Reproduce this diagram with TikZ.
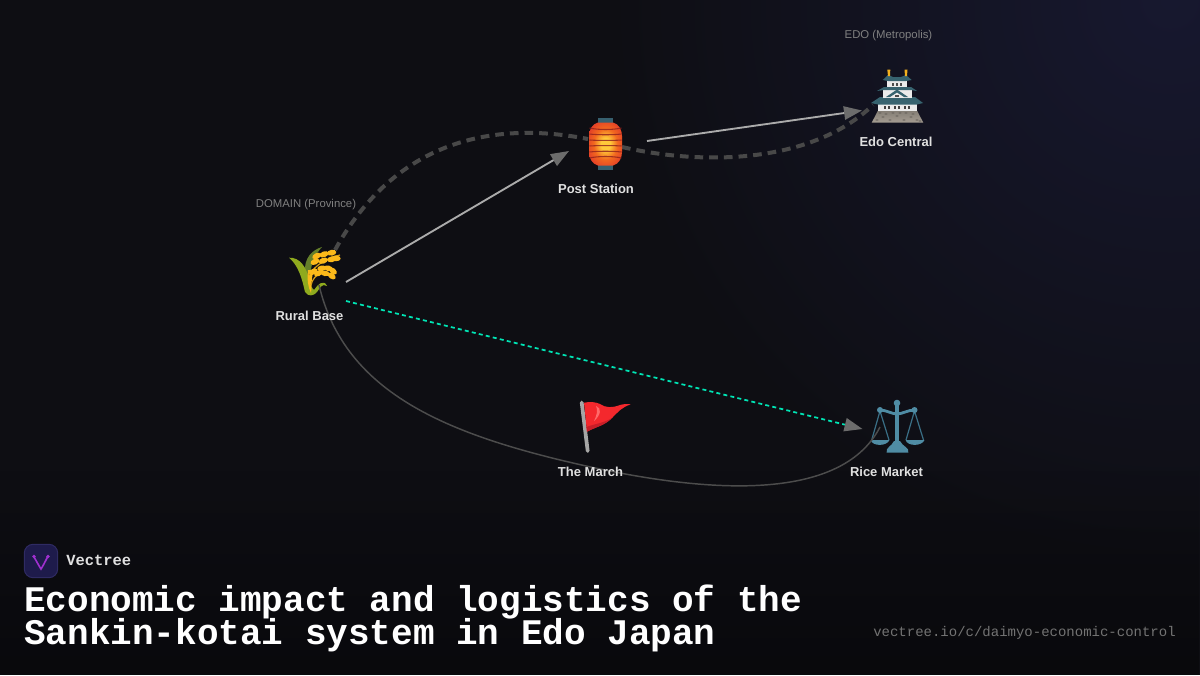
\documentclass[tikz,border=0pt]{standalone}
\usepackage{fontspec}
\setmainfont{Liberation Sans}
\newfontfamily\monof{Liberation Mono}
\usetikzlibrary{arrows.meta,fadings,calc}
\definecolor{bgbase}{HTML}{0E0E13}
\definecolor{bgblue}{HTML}{17182F}
\definecolor{headgrey}{HTML}{6C6C6C}
\definecolor{linkgrey}{HTML}{ABABAB}
\definecolor{dashgrey}{HTML}{484848}
\definecolor{curvegrey}{HTML}{4C4C4C}
\definecolor{dotcyan}{HTML}{00E5B5}
\definecolor{capteal}{HTML}{37606F}
\definecolor{lanred}{HTML}{E0352A}
\definecolor{lanorange}{HTML}{F2681F}
\definecolor{lanyellow}{HTML}{FFC93A}
\definecolor{rib}{HTML}{8E1F1C}
\definecolor{roofteal}{HTML}{37636F}
\definecolor{stone}{HTML}{A59D92}
\definecolor{goldc}{HTML}{F2B01E}
\definecolor{flagred}{HTML}{F4282D}
\definecolor{flagdark}{HTML}{C81E28}
\definecolor{flaglight}{HTML}{FF6A6A}
\definecolor{scaleb}{HTML}{4F8CA4}
\definecolor{scaled}{HTML}{3A6F86}
\definecolor{riceg}{HTML}{8FAA1E}
\definecolor{riced}{HTML}{65802A}
\definecolor{ricey}{HTML}{FBB91A}
\definecolor{logobg}{HTML}{1E1B4B}
\definecolor{logoedge}{HTML}{2F2B63}
\definecolor{logop}{HTML}{A030D0}
\tikzfading[name=downfade,top color=transparent!100,bottom color=transparent!0]
\pgfdeclareradialshading{lanternglow}{\pgfpoint{0bp}{0bp}}{color(0bp)=(lanyellow);color(7bp)=(lanyellow);color(18bp)=(lanorange);color(32bp)=(lanred);color(50bp)=(lanred)}
\tikzset{
  iconbox/.style={minimum width=45pt,minimum height=45pt,inner sep=0pt,outer sep=0pt},
  nodelabel/.style={font=\fontsize{9.75pt}{11pt}\selectfont\bfseries,text=white!88!black,inner sep=0pt,anchor=center},
  tierlabel/.style={font=\fontsize{8.5pt}{10pt}\selectfont,text=white!50!black,inner sep=0pt,anchor=center},
  solidlink/.style={draw=linkgrey,line width=1.4pt,-{Triangle[length=13.5pt,width=10pt,color=headgrey]}},
  dashlink/.style={draw=dashgrey,line width=3pt,dash pattern=on 6.5pt off 4.5pt},
  dotlink/.style={draw=dotcyan,line width=1.3pt,dash pattern=on 3pt off 2.4pt,-{Triangle[length=13.5pt,width=10pt,color=headgrey]}},
  curvelink/.style={draw=curvegrey,line width=1.1pt},
  titletext/.style={font=\monof\bfseries\fontsize{27pt}{24.75pt}\selectfont,text=white,inner sep=0pt,anchor=base west,align=left},
}
\begin{document}
\begin{tikzpicture}[x=0.75pt,y=-0.75pt]
\useasboundingbox (0,0) rectangle (1200,675);
% background
\fill[bgbase] (0,0) rectangle (1200,675);
\begin{scope}
\clip (0,0) rectangle (1200,675);
\shade[inner color=bgblue,middle color=bgblue!70!bgbase,outer color=bgbase] (1170,0) ellipse [x radius=560,y radius=560];
\end{scope}
\fill[black,opacity=0.35,path fading=downfade] (0,470) rectangle (1200,675);

% dashed links (behind the icons)
\node[iconbox] (rural) at (314,271) {};
\node[iconbox] (post) at (606,144) {};
\node[iconbox] (edo) at (897,96) {};
\node[iconbox] (march) at (605,427) {};
\node[iconbox] (market) at (897,427) {};
\draw[dashlink] ([shift={(21,9)}]rural.north) .. controls (390,150) and (480,118) .. ([shift={(12,-5)}]post.west);
\draw[dashlink] ([shift={(-14,3)}]post.east) .. controls (700,165) and (810,165) .. ([shift={(6,9)}]edo.west);

% rice icon
\fill[riced] (322,247) .. controls (312,250) and (304,258) .. (305,272) .. controls (306,282) and (308,288) .. (311,292) .. controls (310,278) and (308,262) .. (322,247) -- cycle;
\fill[riceg] (289,257.7) .. controls (300,257) and (307,268) .. (309,280) .. controls (310,285) and (312,288) .. (314,290) .. controls (318,284) and (324,279) .. (327,286) .. controls (322,283) and (320,288) .. (317,292) .. controls (314,296) and (308,297) .. (305,292) .. controls (302,278) and (298,265) .. (289,257.7) -- cycle;
\fill[ricey] (308,270) .. controls (307,280) and (308,287) .. (311,293) .. controls (312,285) and (311,277) .. (314,270) -- cycle;
\draw[ricey!85!black,line width=0.9pt] (309,275) .. controls (316,264) and (328,258) .. (340,255);
\draw[ricey!85!black,line width=0.9pt] (311,285) .. controls (314,273) and (326,268) .. (335,278);
\foreach \a/\b/\r in {316.7/256/25,324/254.3/20,331.7/252.7/10,336/258.3/-5,315/261.7/25,323.3/260.7/20,331.7/259.3/10}{
  \fill[ricey,rotate around={\r:(\a,\b)}] (\a,\b) ellipse [x radius=4.7,y radius=2.9];}
\foreach \a/\b/\r in {313.3/271.7/30,321.7/268.3/10,328.3/268.3/-15,318.3/273.3/25,325/273.3/-10,331.7/276/-35,333/271/-40}{
  \fill[ricey,rotate around={\r:(\a,\b)}] (\a,\b) ellipse [x radius=4.5,y radius=2.8];}

% lantern icon
\fill[capteal] (598,118) rectangle (613,125);
\fill[capteal] (597.5,164) rectangle (613,170);
\shade[shading=lanternglow] (598,122.5) .. controls (592,124) and (589,130) .. (589,136) -- (589,152) .. controls (589,158) and (592,164) .. (598,165.5) -- (613,165.5) .. controls (619,164) and (622,158) .. (622,152) -- (622,136) .. controls (622,130) and (619,124) .. (613,122.5) -- cycle;
\foreach \y/\b in {128/2,134/1,140/.6,146/-.6,152/-1,158/-2}{
  \draw[rib,line width=0.8pt,opacity=0.8] (589.5,\y) .. controls (598,\y+\b) and (613,\y+\b) .. (621.5,\y);}

% castle icon
\shade[top color=stone!80!black,bottom color=stone] (871.7,122.7) -- (878,110.5) -- (917,110.5) -- (923.3,122.7) -- cycle;
\foreach \a/\b in {877/120,883/117,890/120,897/116,904/120,911/117,917/120,880/113,893/113,906/113,913/114,886/114,900/113,920/121}{
  \fill[stone!60!black] (\a,\b) ellipse [x radius=1.6,y radius=.7];}
\fill[white!92!black] (878,104) rectangle (917,111);
\fill[roofteal] (871,103) -- (880,97) -- (915,97) -- (923,103) -- (917,104.5) -- (878,104.5) -- cycle;
\fill[white!92!black] (883,89) rectangle (912,98);
\fill[roofteal] (877,91) -- (884,87) -- (911,87) -- (917,91) -- (911,90) -- (884,90) -- cycle;
\fill[roofteal] (886,97) -- (897,89.5) -- (908,97) -- (904,97) -- (897,92.5) -- (890,97) -- cycle;
\fill[black!70] (895,94.5) rectangle (899,97);
\fill[white!92!black] (887,80) rectangle (907,87);
\fill[roofteal] (882.7,80) -- (888,75) -- (893,77) -- (901,77) -- (906,75) -- (911.7,80) -- (906,81) -- (888,81) -- cycle;
\fill[goldc] (887.3,69.5) -- (890.3,69.5) -- (890,76) -- (888,76) -- cycle;
\fill[goldc] (904.5,69.5) -- (907.5,69.5) -- (907,76) -- (905,76) -- cycle;
\foreach \a in {885,888.5,895,898.5,905,908.5}{\fill[black!75] (\a-1,106) rectangle (\a+1,109);}
\foreach \a in {893,897,901}{\fill[black!70] (\a-1,83) rectangle (\a+1,85.5);}

% flag icon
\draw[white!65!black,line width=2.8pt,line cap=round] (581.7,402.5) -- (587.7,451);
\fill[flagred] (584,402.7) .. controls (590,401.5) and (596,402) .. (600,404) .. controls (606,408) and (612,408) .. (620,405) .. controls (624,404) and (628,403.5) .. (630.5,404.5) .. controls (622,407) and (618,412) .. (612,418) .. controls (604,426) and (595,427) .. (587,431.7) -- cycle;
\fill[flagdark] (587,431.7) .. controls (595,427) and (604,426) .. (612,418) .. controls (604,423) and (594,424) .. (586.4,427) -- cycle;
\fill[flaglight] (596,406) .. controls (602,408) and (601,415) .. (594,421) .. controls (597,415) and (598,410) .. (596,406) -- cycle;

% scales icon
\draw[scaled,line width=0.9pt] (871.7,440) -- (880,411) -- (889,440);
\draw[scaled,line width=0.9pt] (906,440) -- (914.5,411) -- (923.5,440);
\fill[scaleb] (894.8,405) rectangle (899.2,445);
\fill[scaleb] (897,403) circle (3.3);
\fill[scaleb] (886.7,452.5) .. controls (885,448) and (892,446) .. (894,441) -- (900,441) .. controls (902,446) and (910,448) .. (908.3,452.5) -- cycle;
\draw[scaleb,line width=2.1pt] (880,410) .. controls (886,410) and (892,414) .. (897,414) .. controls (902,414) and (908,410) .. (914.5,410);
\fill[scaleb] (880,410) circle (3);
\fill[scaleb] (914.5,410) circle (3);
\fill[scaleb] (870.7,440) .. controls (872,446.5) and (887,446.5) .. (889.5,440) -- cycle;
\fill[scaleb] (905.7,440) .. controls (907,446.5) and (922,446.5) .. (924.5,440) -- cycle;

% links above the icons
\draw[solidlink] ([shift={(2,11)}]rural.east) -- ([shift={(-7,7)}]post.west);
\draw[solidlink] ([shift={(11,-3)}]post.east) -- ([shift={(-5,14.5)}]edo.west);
\draw[dotlink] ([shift={(2,30)}]rural.east) -- ([shift={(-4.5,2)}]market.west);
\coordinate (curvemid) at (600,469);
\draw[curvelink] ([shift={(5,-16)}]rural.south) .. controls (345,395) and (450,437) .. (curvemid) .. controls (700,490) and (840,505) .. ([shift={(13,0)}]market.west);

% labels
\node[tierlabel] (tierDomain) at (306,205) {DOMAIN (Province)};
\node[tierlabel] (tierEdo) at (888.5,36) {EDO (Metropolis)};
\node[nodelabel] (labRural) at (309.5,315.5) {Rural Base};
\node[nodelabel] (labPost) at (596,188.5) {Post Station};
\node[nodelabel] (labEdo) at (896,141.5) {Edo Central};
\node[nodelabel] (labMarch) at (590.5,471.5) {The March};
\node[nodelabel] (labMarket) at (886.5,471.5) {Rice Market};

% logo
\node[draw=logoedge,fill=logobg,line width=0.75pt,rounded corners=6.5pt,minimum width=25pt,minimum height=25pt,inner sep=0pt] (logo) at (41,561) {};
\draw[logop,line width=1.2pt] ([shift={(-7,-4)}]logo.center) .. controls (37,562) and (39,566) .. ([shift={(0,8)}]logo.center) .. controls (43,566) and (45,562) .. ([shift={(6.5,-4)}]logo.center);
\fill[logop] ([shift={(-7,-4.5)}]logo.center) circle (1.8);
\fill[logop] ([shift={(7,-4.5)}]logo.center) circle (1.8);
\node[font=\monof\bfseries\fontsize{11.6pt}{14pt}\selectfont,text=white!88!black,inner sep=0pt,anchor=base west] (brand) at (66,565) {Vectree};
\node[titletext] (title1) at (24,611) {Economic impact and logistics of the};
\node[titletext] (title2) at (24,644) {Sankin-kotai system in Edo Japan};
\node[font=\monof\fontsize{10.5pt}{12pt}\selectfont,text=white!45!black,inner sep=0pt,anchor=base east] (url) at (1176,636) {vectree.io/c/daimyo-economic-control};
\end{tikzpicture}
\end{document}
